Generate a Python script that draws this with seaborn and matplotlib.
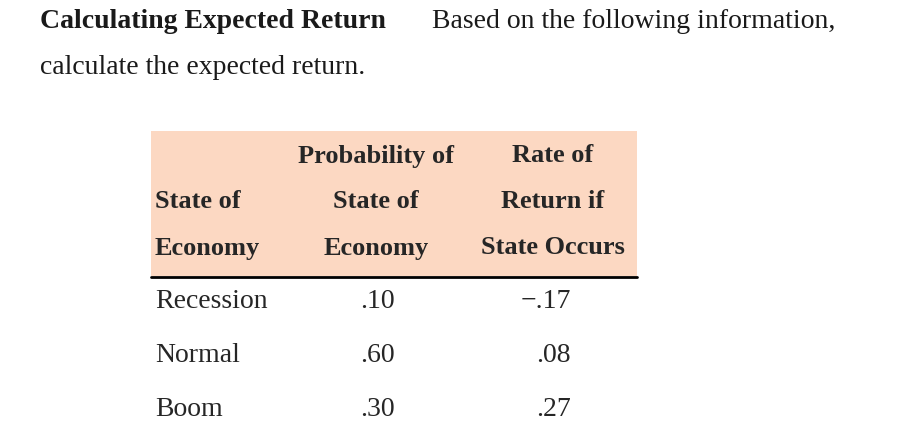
import matplotlib
matplotlib.use("Agg")
import matplotlib.pyplot as plt
import seaborn as sns

sns.set_theme(style="white")
plt.rcParams['font.family'] = ['Liberation Serif', 'DejaVu Serif']

# Table content
title_bold = "Calculating Expected Return"
title_rest = "Based on the following information,"
title_line2 = "calculate the expected return."
header_col1 = ["", "State of", "Economy"]
header_col2 = ["Probability of", "State of", "Economy"]
header_col3 = ["Rate of", "Return if", "State Occurs"]
states = ["Recession", "Normal", "Boom"]
probabilities = [".10", ".60", ".30"]
returns = ["\u2212.17", ".08", ".27"]

fig = plt.figure(figsize=(9.06, 4.48), dpi=100)
ax = fig.add_axes([0, 0, 1, 1])
ax.set_xlim(0, 906)
ax.set_ylim(448, 0)
ax.axis("off")

# Title
ax.text(40, 22, title_bold, fontsize=20, fontweight="bold", va="center", ha="left",
        color="#1a1a1a")
ax.text(432, 22, title_rest, fontsize=20, va="center", ha="left", color="#1a1a1a")
ax.text(40, 68, title_line2, fontsize=20, va="center", ha="left", color="#1a1a1a")

# Header background and rule
ax.add_patch(plt.Rectangle((151, 131), 486, 145, facecolor="#fcd8c2", edgecolor="none"))
ax.plot([151, 637], [277, 277], color="black", lw=2)

header_y = [156, 202, 248]
for i, y in enumerate(header_y):
    ax.text(155, y, header_col1[i], fontsize=19, fontweight="bold", va="center", ha="left")
    ax.text(376, y, header_col2[i], fontsize=19, fontweight="bold", va="center", ha="center")
    ax.text(553, y, header_col3[i], fontsize=19, fontweight="bold", va="center", ha="center")

body_y = [302, 356, 409]
for i, y in enumerate(body_y):
    ax.text(155, y, states[i], fontsize=20, va="center", ha="left")
    ax.text(395, y, probabilities[i], fontsize=20, va="center", ha="right")
    ax.text(571, y, returns[i], fontsize=20, va="center", ha="right")

fig.savefig("out.png", dpi=100, facecolor="white")
